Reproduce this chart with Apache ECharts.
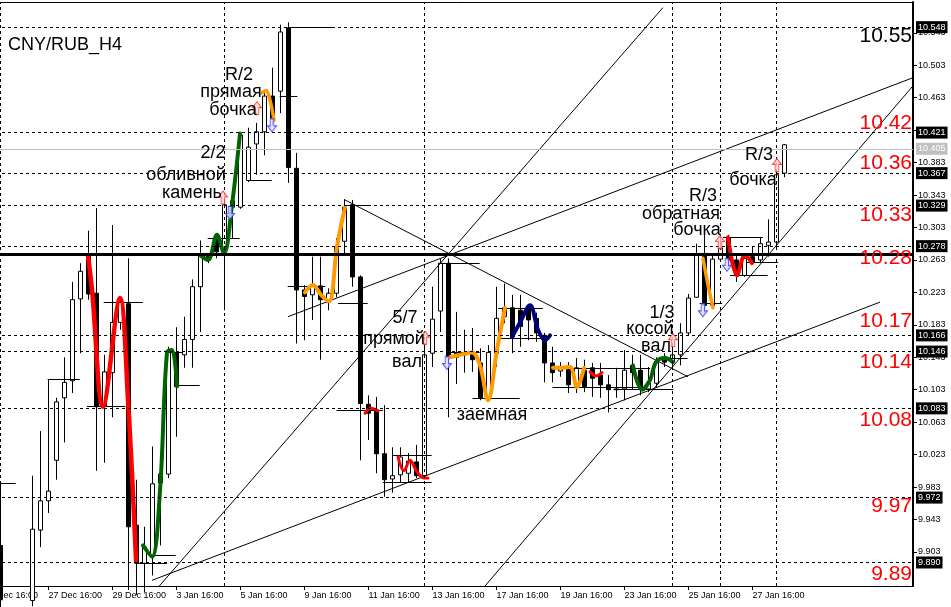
<!DOCTYPE html>
<html><head><meta charset="utf-8">
<script src="https://cdn.jsdelivr.net/npm/echarts@6/dist/echarts.min.js"></script>
<style>html,body{margin:0;padding:0;background:#fff}#c{width:951px;height:607px}</style>
</head><body><div id="c"></div>
<script>
// ---- DATA (bar index = position on the H4 time axis) ----
const opens  = [9.911,9.846,9.835,9.849,9.843,9.930,9.966,10.016,10.093,10.114,10.215,10.268,10.222,10.083,10.124,10.186,10.209,9.936,9.889,9.898,9.988,9.999,10.149,10.146,10.165,10.230,10.268,10.289,10.273,10.328,10.328,10.361,10.406,10.421,10.465,10.471,10.549,10.376,10.226,10.220,10.231,10.211,10.222,10.286,10.331,10.242,10.085,10.078,10.024,9.993,9.998,10.000,10.014,9.997,10.148,10.200,10.259,10.143,10.146,10.149,10.136,10.093,10.148,10.193,10.204,10.201,10.204,10.191,10.170,10.136,10.126,10.130,10.106,10.127,10.130,10.121,10.109,10.104,10.104,10.133,10.127,10.104,10.111,10.143,10.137,10.146,10.173,10.217,10.271,10.207,10.264,10.290,10.263,10.244,10.267,10.263,10.281,10.285,10.370];
const closes = [9.844,9.835,9.849,9.843,9.931,9.966,9.978,10.088,10.112,10.214,10.249,10.221,10.082,10.125,10.186,10.211,9.934,9.889,9.909,9.987,9.999,10.151,10.107,10.165,10.230,10.268,10.264,10.273,10.331,10.336,10.417,10.402,10.421,10.465,10.438,10.544,10.377,10.226,10.218,10.232,10.214,10.222,10.279,10.328,10.242,10.086,10.074,10.024,9.992,9.997,10.020,10.015,9.997,10.146,10.190,10.259,10.142,10.148,10.149,10.140,10.093,10.149,10.191,10.204,10.168,10.181,10.189,10.173,10.136,10.124,10.130,10.109,10.130,10.107,10.117,10.109,10.103,10.103,10.127,10.124,10.105,10.111,10.138,10.137,10.146,10.173,10.216,10.269,10.207,10.264,10.278,10.263,10.244,10.265,10.260,10.283,10.285,10.368,10.405];
const lows   = [9.831,9.826,9.828,9.832,9.836,9.909,9.951,9.992,10.038,10.099,10.148,10.214,10.003,10.013,10.069,10.177,9.856,9.850,9.853,9.874,9.911,9.994,10.045,10.130,10.130,10.174,10.259,10.265,10.201,10.290,10.326,10.359,10.368,10.392,10.429,10.444,10.358,10.160,10.164,10.189,10.140,10.201,10.217,10.269,10.230,10.016,10.041,10.000,9.971,9.976,9.989,9.989,9.994,9.994,10.131,10.174,10.069,10.110,10.124,10.125,10.090,10.089,10.131,10.185,10.148,10.156,10.164,10.162,10.112,10.112,10.119,10.099,10.099,10.100,10.094,10.093,10.075,10.093,10.090,10.103,10.096,10.100,10.106,10.131,10.130,10.133,10.170,10.216,10.198,10.204,10.263,10.254,10.236,10.242,10.258,10.260,10.267,10.281,10.365];
const highs  = [9.988,9.858,9.859,9.858,9.997,10.052,10.116,10.093,10.143,10.236,10.259,10.299,10.327,10.146,10.306,10.216,10.265,9.992,9.934,10.033,10.019,10.156,10.180,10.193,10.239,10.287,10.271,10.296,10.337,10.343,10.419,10.426,10.432,10.470,10.500,10.553,10.556,10.395,10.232,10.267,10.267,10.228,10.290,10.338,10.337,10.244,10.096,10.094,10.084,10.032,10.032,10.025,10.035,10.158,10.230,10.264,10.265,10.199,10.177,10.179,10.154,10.158,10.230,10.234,10.220,10.220,10.207,10.198,10.173,10.156,10.137,10.137,10.142,10.140,10.136,10.136,10.121,10.130,10.152,10.146,10.146,10.131,10.143,10.148,10.160,10.185,10.221,10.283,10.300,10.271,10.291,10.294,10.269,10.269,10.280,10.290,10.313,10.374,10.406];

const xTickBars   = [-2,6,14,22,30,38,46,54,62,70,78,86,94];
const xTickLabels = ['26 Dec 16:00','27 Dec 16:00','29 Dec 16:00','3 Jan 16:00','5 Jan 16:00','9 Jan 16:00','11 Jan 16:00','13 Jan 16:00','17 Jan 16:00','19 Jan 16:00','23 Jan 16:00','25 Jan 16:00','27 Jan 16:00'];
const yTickValues = [10.543,10.503,10.463,10.423,10.383,10.343,10.303,10.263,10.223,10.183,10.143,10.103,10.063,10.023,9.983,9.943,9.903];

const levelValues = [10.548,10.421,10.367,10.329,10.278,10.166,10.146,10.083,9.972,9.890];
const levelTexts  = ['10.55','10.42','10.36','10.33','10.28','10.17','10.14','10.08','9.97','9.89'];
const bidValue = 10.405;
const mainLevel = 10.267;
const signalBars = [0,28,53,84,90,97];

const trendLines = [
  [[18,9.840],[82.8,10.574]],
  [[18.94,9.868],[109.94,10.211]],
  [[35.94,10.193],[116,10.495]],
  [[43.06,10.337],[85.94,10.119]],
  [[59,9.843],[116,10.500]]
];
const segments = [
  [35.9,41.8,10.550],[34.9,37.1,10.465],[30.9,33.9,10.361],[25.9,29.9,10.290],[12.9,17.8,10.211],
  [5.9,9.9,10.116],[10.8,15.6,10.082],[0,1.9,9.988],[17.1,20.8,9.889],[18.9,21.9,9.899],
  [21.9,24.9,10.109],[20.8,22.7,10.149],[35.9,40.6,10.230],[42.2,45.9,10.210],[43.1,46.2,10.331],
  [54.9,59.9,10.259],[42,47.8,10.078],[49,53.9,10.022],[47.8,53.9,9.989],[55.8,59.9,10.149],
  [59,64.9,10.093],[62.2,67.8,10.204],[62.4,68.1,10.167],[69,81.2,10.130],[69,79.9,10.106],
  [76.6,84.1,10.103],[82,85.9,10.142],[87.4,90.2,10.209],[90.3,95.3,10.291],[91.2,95.9,10.244],[93.3,97.2,10.260]
];

const zzRed1    = [[10.94,10.268],[11.44,10.226],[12.81,10.082],[14.94,10.216],[15.94,10.090],[16.94,9.893]];
const zzGreen1  = [[17.81,9.911],[18.94,9.897],[19.94,9.979],[20.81,10.149],[21.44,10.152],[22.06,10.107]];
const zzGreen2  = [[24.94,10.269],[25.94,10.263],[27.06,10.294],[27.94,10.271],[28.94,10.331],[29.94,10.419]];
const zzOrange1 = [[32.69,10.469],[33.19,10.472],[33.69,10.460],[34.19,10.435]];
const zzOrange2 = [[38.06,10.223],[39.06,10.232],[40.06,10.220],[41.06,10.212],[42.06,10.279],[43.06,10.328]];
const zzRed2    = [[45.56,10.074],[46.31,10.080],[47.19,10.077]];
const zzRed3    = [[49.69,10.020],[50.44,10.003],[51.19,10.016],[51.94,10.004],[52.69,9.995],[53.44,9.994]];
const zzOrange3 = [[56.19,10.143],[57.44,10.146],[58.94,10.149],[59.94,10.133],[60.94,10.090],[62.06,10.152],[63.06,10.204]];
const zzBlue    = [[63.94,10.168],[64.94,10.186],[66.19,10.207],[67.19,10.177],[68.06,10.164],[68.69,10.170]];
const zzOrange4 = [[69.06,10.130],[70.19,10.130],[71.19,10.131],[72.06,10.106],[72.94,10.130]];
const zzRed5    = [[73.69,10.125],[74.44,10.120],[75.19,10.124]];
const zzGreen3  = [[79.06,10.133],[80.19,10.103],[81.19,10.115],[81.94,10.137],[83.06,10.142],[84.06,10.137]];
const zzOrange5 = [[87.81,10.265],[88.44,10.232],[89.06,10.204]];
const zzRed4    = [[90.94,10.291],[92.06,10.244],[93.06,10.269],[93.94,10.259]];

const upArrows   = [[32.06,10.450],[27.81,10.340],[53.06,10.167],[84.06,10.164],[89.94,10.285],[97.06,10.380]];
const downArrows = [[28.69,10.321],[33.94,10.429],[55.81,10.136],[87.81,10.201],[90.81,10.257]];

// ---- build ----
const FONT = '"Liberation Sans", Arial, sans-serif';
const RED = '#ff0000', ORANGE = '#ff9a00', GREEN = '#006400', NAVY = '#000080';
const candles = opens.map((o, i) => [i, o, closes[i], lows[i], highs[i]]);

const bigLabelStyle = [
  {color:'#000', pos:'insideEndBottom', d:1},
  {color:RED, pos:'insideEndTop', d:1},
  {color:RED, pos:'insideEndTop', d:2},
  {color:RED, pos:'insideEndBottom', d:2},
  {color:RED, pos:'insideEndBottom', d:4},
  {color:RED, pos:'insideEndTop', d:6},
  {color:RED, pos:'insideEndBottom', d:3},
  {color:RED, pos:'insideEndBottom', d:4},
  {color:RED, pos:'insideEndBottom', d:1},
  {color:RED, pos:'insideEndBottom', d:4}
];

const markData = [];
levelValues.forEach((v) => {
  markData.push({yAxis: v, lineStyle: {color:'#000', type:[3,3], width:1},
    label: {show:true, position:'end', distance:[3,0], formatter: v.toFixed(3), color:'#fff',
      backgroundColor:'#000', padding:[1,2,0,2], fontSize:9, lineHeight:11, fontFamily:FONT}});
});
markData.push({yAxis: bidValue, lineStyle:{color:'#c0c0c0', type:'solid', width:1},
  label:{show:true, position:'end', distance:[3,0], formatter: bidValue.toFixed(3), color:'#fff',
    backgroundColor:'#c0c0c0', padding:[1,2,0,2], fontSize:9, lineHeight:11, fontFamily:FONT}});
markData.push({yAxis: mainLevel, lineStyle:{color:'#000', type:'solid', width:3}, label:{show:false}});
signalBars.forEach(b => markData.push({xAxis: b, lineStyle:{color:'#000', type:[3,3], width:1}, label:{show:false}}));

const bigData = levelValues.map((v, i) => {
  const s = bigLabelStyle[i];
  return {yAxis: v, lineStyle: {color:'rgba(255,255,255,0)', width:0.01, opacity:1},
    label: {show:true, position:s.pos, distance:[1, s.d], formatter: levelTexts[i], color:s.color, opacity:1,
      fontSize:21, lineHeight:16, fontFamily:FONT}};
});

const zz = [
  [zzRed1, RED, 4.5], [zzGreen1, GREEN, 4], [zzGreen2, GREEN, 4], [zzOrange1, ORANGE, 3.5],
  [zzOrange2, ORANGE, 4], [zzRed2, RED, 3], [zzRed3, RED, 3], [zzOrange3, ORANGE, 4],
  [zzBlue, NAVY, 4], [zzOrange4, ORANGE, 4], [zzRed5, RED, 3], [zzGreen3, GREEN, 4],
  [zzOrange5, ORANGE, 3.5], [zzRed4, RED, 4]
];

const lineData = trendLines.map(t => ({coords: t}))
  .concat(segments.map(s => ({coords: [[s[0], s[2]], [s[1], s[2]]]})));

const ARROW = 'path://M4,0 L8,5 L5.6,5 L5.6,11 L2.4,11 L2.4,5 L0,5 Z';

const annotations = [
  ['CNY/RUB_H4', 8, 45, 'left'],
  ['R/2', 239, 75], ['прямая', 231, 92], ['бочка', 233, 110],
  ['2/2', 213, 153], ['обливной', 186, 175], ['камень', 192, 193],
  ['5/7', 405, 318], ['прямой', 394, 339], ['вал', 407, 362],
  ['заемная', 492, 415],
  ['1/3', 662, 313], ['косой', 650, 329], ['вал', 656, 346],
  ['R/3', 703, 196], ['обратная', 681, 214], ['бочка', 697, 230],
  ['R/3', 759, 155], ['бочка', 753, 180]
];

const series = [
  {type:'line', data:[], z:1, silent:true, markLine:{symbol:'none', silent:true, animation:false, data: markData}},
  {type:'candlestick', data: candles, encode:{x:0, y:[1,2,3,4]}, barWidth:4, z:2, clip:true,
    itemStyle:{color:'#fff', color0:'#000', borderColor:'#000', borderColor0:'#000', borderWidth:1}},
  {type:'lines', coordinateSystem:'cartesian2d', data: lineData, z:3, silent:true, clip:true,
    lineStyle:{color:'#000', width:1, opacity:1, curveness:0}}
];
zz.forEach(z => series.push({type:'line', data:z[0], smooth:0.35, showSymbol:false, z:4, silent:true,
  lineStyle:{color:z[1], width:z[2], cap:'round', join:'round'}}));
series.push({type:'scatter', data: upArrows, symbol: ARROW, symbolSize:[9,13], z:5, silent:true,
  itemStyle:{color:'#ffd6d6', borderColor:'#ff2020', borderWidth:1}});
series.push({type:'scatter', data: downArrows, symbol: ARROW, symbolSize:[9,13], symbolRotate:180, z:5, silent:true,
  itemStyle:{color:'#dcdcff', borderColor:'#3030ff', borderWidth:1}});
series.push({type:'line', data:[], z:6, silent:true, markLine:{symbol:'none', silent:true, animation:false, data: bigData}});

const chart = echarts.init(document.getElementById('c'), null, {renderer:'canvas'});
chart.setOption({
  animation:false,
  backgroundColor:'#fff',
  grid:{left:-16, right:38, top:2, bottom:21, containLabel:false, outerBoundsMode:'none'},
  xAxis:[{
    type:'value', min:-2.0625, max:114.0625, position:'bottom',
    splitLine:{show:false},
    axisLine:{show:true, onZero:false, lineStyle:{color:'#000', width:1}},
    axisTick:{show:true, length:4, customValues: xTickBars, lineStyle:{color:'#000'}},
    axisLabel:{show:true, customValues: xTickBars, showMinLabel:true, showMaxLabel:true,
      formatter: v => { const i = xTickBars.findIndex(t => Math.abs(t - v) < 1e-6); return i >= 0 ? xTickLabels[i] : ''; },
      align:'left', margin:5, color:'#000', fontSize:9, fontFamily:FONT}
  },{
    type:'value', min:-2.0625, max:114.0625, position:'top',
    splitLine:{show:false}, axisTick:{show:false}, axisLabel:{show:false},
    axisLine:{show:true, onZero:false, lineStyle:{color:'#000', width:1}}
  }],
  yAxis:{
    type:'value', position:'right', min:9.861, max:10.581, scale:true,
    splitLine:{show:false},
    axisLine:{show:true, onZero:false, lineStyle:{color:'#000', width:2}},
    axisTick:{show:true, length:4, customValues: yTickValues, lineStyle:{color:'#000'}},
    axisLabel:{show:true, customValues: yTickValues, formatter: v => v.toFixed(3), margin:5,
      color:'#000', fontSize:9, fontFamily:FONT}
  },
  series: series,
  graphic: annotations.map(a => ({type:'text', x:a[1], y:a[2], z:100, silent:true,
    style:{text:a[0], fill:'#000', fontSize:18, fontFamily:FONT, align:a[3] || 'center', verticalAlign:'middle'}}))
});
</script></body></html>
